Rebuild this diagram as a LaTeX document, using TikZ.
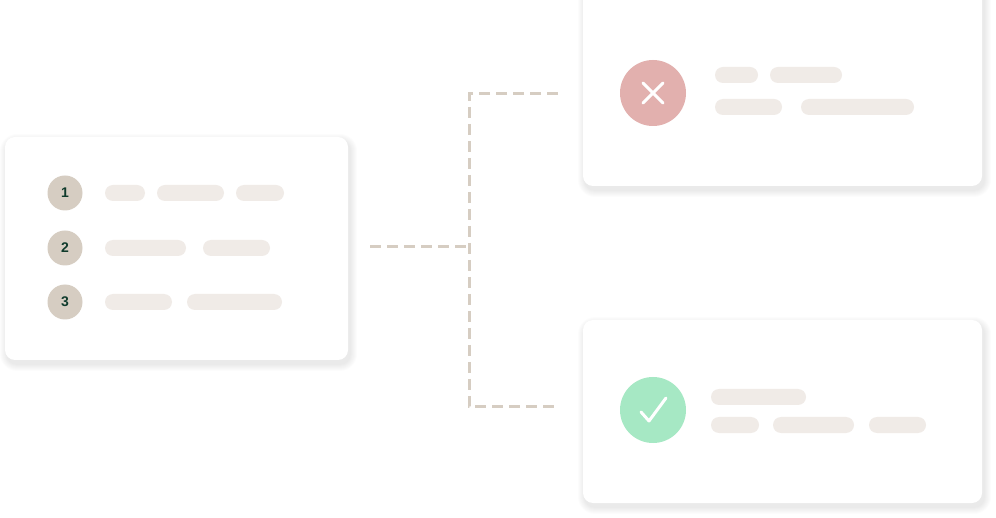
\documentclass[tikz,border=0pt]{standalone}
\usepackage{fontspec}
\setmainfont{Liberation Sans}
\definecolor{beige}{HTML}{D6CDC2}
\definecolor{barc}{HTML}{F0EBE7}
\definecolor{redc}{HTML}{E2B0AE}
\definecolor{greenc}{HTML}{A6E8C4}
\definecolor{numc}{HTML}{0F3B2C}
\tikzset{
 card/.style={fill=white,rounded corners=10pt},
 bar/.style={fill=barc,rounded corners=8pt},
 num/.style={circle,fill=beige,minimum size=35pt,inner sep=0pt,font=\bfseries\fontsize{14}{14}\selectfont,text=numc},
 conn/.style={draw=beige,line width=3pt,dash pattern=on 11pt off 6pt},
}
\newcommand\mycard[4]{%
 \foreach \k in {1,...,7}{\fill[black,opacity=0.012,rounded corners=10pt+\k pt] (#1-\k+2,#2-\k+4) rectangle (#3+\k+2,#4+\k+4);}
 \path[card] (#1,#2) rectangle (#3,#4);}
\begin{document}
\begin{tikzpicture}[x=1pt,y=-1pt]
\useasboundingbox[fill=white] (0,0) rectangle (996,518);
\mycard{5}{137}{348}{360}
\mycard{583}{-15}{982}{186}
\mycard{583}{320}{982}{503}
\node[num] (n1) at (65,193) {1};
\node[num] (n2) at (65,248) {2};
\node[num] (n3) at (65,302) {3};
\foreach \a/\b/\y in {105/145/193,157/224/193,236/284/193,105/186/248,203/270/248,105/172/302,187/282/302,
 715/758/75,770/842/75,715/782/107,801/914/107,711/806/397,711/759/425,773/854/425,869/926/425}
 \path[bar] (\a,\y-8) rectangle (\b,\y+8);
\node[circle,fill=redc,minimum size=66pt] (x) at (653,93) {};
\draw[white,line width=3pt,line cap=round] (643,83) -- (663,103) (663,83) -- (643,103);
\node[circle,fill=greenc,minimum size=66pt] (ok) at (653,410) {};
\draw[white,line width=3pt,line cap=round,line join=round] (641,412) -- (649,421) -- (666,398);
\coordinate (s) at (370,247);
\coordinate (j) at (469,247);
\coordinate (t) at (558,94);
\coordinate (b) at (558,407);
\draw[conn] (s) -- (j);
\draw[conn] (t) -- (469,94) -- (469,407) -- (b);
\end{tikzpicture}
\end{document}
